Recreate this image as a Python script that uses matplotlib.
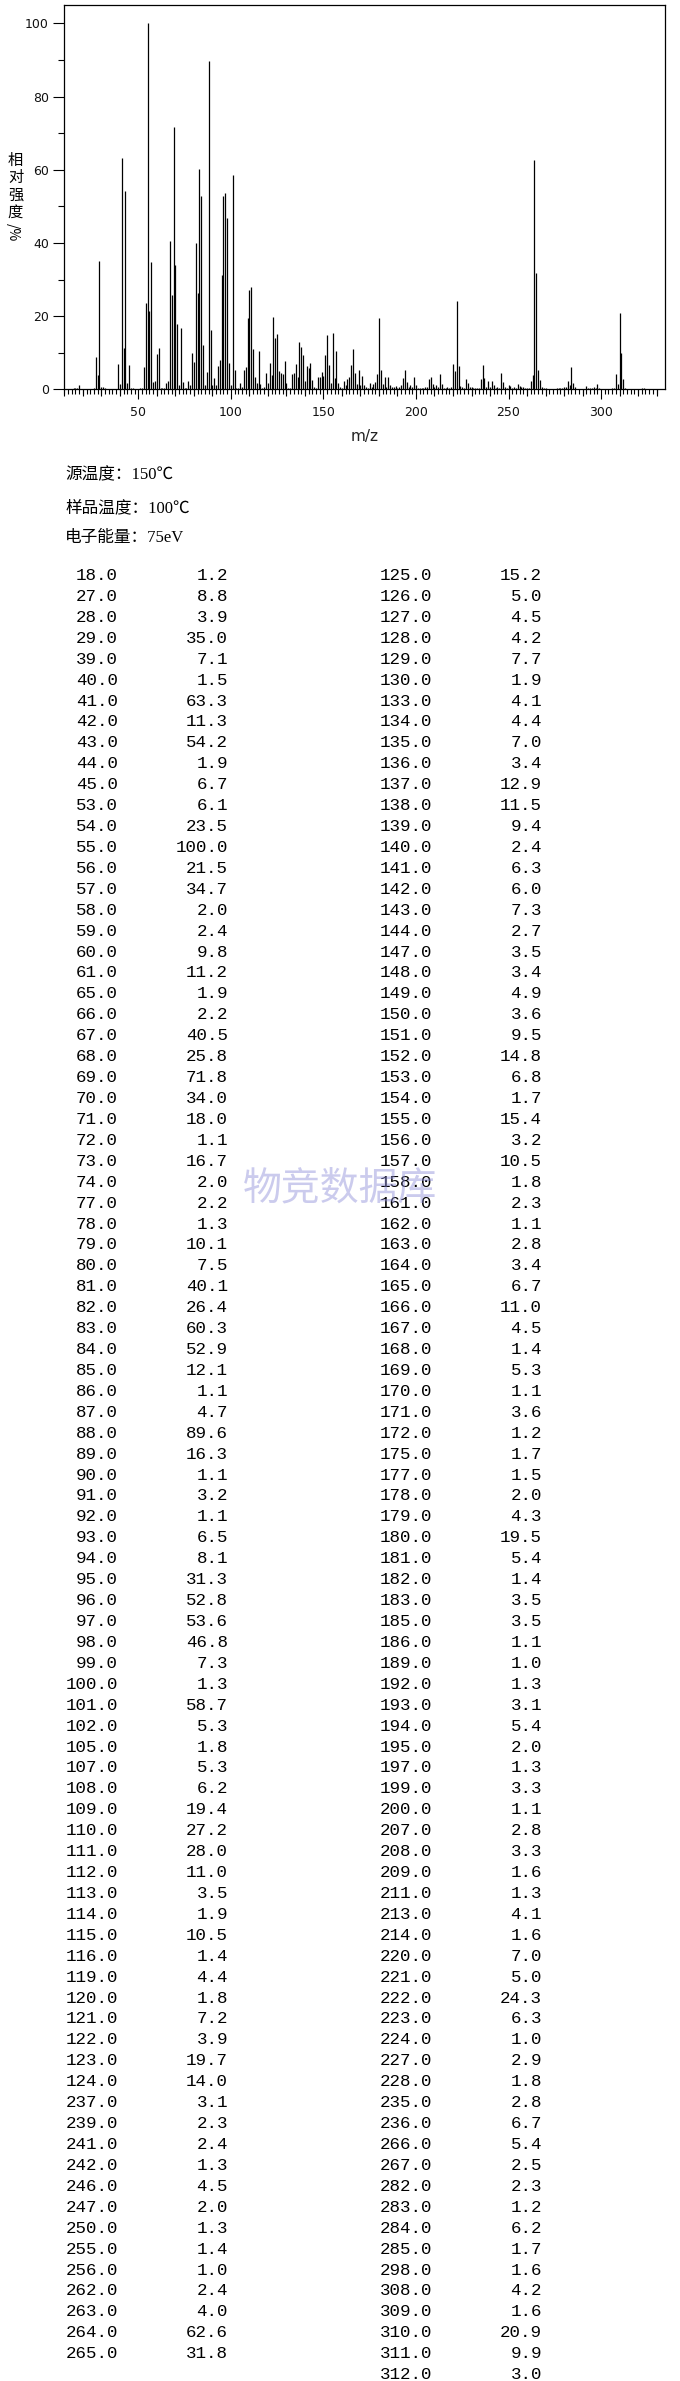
import matplotlib
matplotlib.use("Agg")
import matplotlib.pyplot as plt
from matplotlib.ticker import FixedLocator

W, H = 680, 2381

# peak list exactly as printed below the spectrum (two columns)
left_mz = [18, 27, 28, 29, 39, 40, 41, 42, 43, 44, 45, 53, 54, 55,
           56, 57, 58, 59, 60, 61, 65, 66, 67, 68, 69, 70, 71, 72,
           73, 74, 77, 78, 79, 80, 81, 82, 83, 84, 85, 86, 87, 88,
           89, 90, 91, 92, 93, 94, 95, 96, 97, 98, 99, 100, 101, 102,
           105, 107, 108, 109, 110, 111, 112, 113, 114, 115, 116, 119, 120, 121, 122,
           123, 124, 237, 239, 241, 242, 246, 247, 250, 255, 256, 262, 263, 264, 265]
left_int = [1.2, 8.8, 3.9, 35.0, 7.1, 1.5, 63.3, 11.3, 54.2, 1.9, 6.7, 6.1, 23.5, 100.0,
            21.5, 34.7, 2.0, 2.4, 9.8, 11.2, 1.9, 2.2, 40.5, 25.8, 71.8, 34.0, 18.0, 1.1,
            16.7, 2.0, 2.2, 1.3, 10.1, 7.5, 40.1, 26.4, 60.3, 52.9, 12.1, 1.1, 4.7, 89.6,
            16.3, 1.1, 3.2, 1.1, 6.5, 8.1, 31.3, 52.8, 53.6, 46.8, 7.3, 1.3, 58.7, 5.3,
            1.8, 5.3, 6.2, 19.4, 27.2, 28.0, 11.0, 3.5, 1.9, 10.5, 1.4, 4.4, 1.8, 7.2, 3.9,
            19.7, 14.0, 3.1, 2.3, 2.4, 1.3, 4.5, 2.0, 1.3, 1.4, 1.0, 2.4, 4.0, 62.6, 31.8]

right_mz = [125, 126, 127, 128, 129, 130, 133, 134, 135, 136, 137, 138, 139, 140,
            141, 142, 143, 144, 147, 148, 149, 150, 151, 152, 153, 154, 155, 156,
            157, 158, 161, 162, 163, 164, 165, 166, 167, 168, 169, 170, 171, 172,
            175, 177, 178, 179, 180, 181, 182, 183, 185, 186, 189, 192, 193, 194,
            195, 197, 199, 200, 207, 208, 209, 211, 213, 214, 220, 221, 222, 223, 224,
            227, 228, 235, 236, 266, 267, 282, 283, 284, 285, 298, 308, 309, 310, 311, 312]
right_int = [15.2, 5.0, 4.5, 4.2, 7.7, 1.9, 4.1, 4.4, 7.0, 3.4, 12.9, 11.5, 9.4, 2.4,
             6.3, 6.0, 7.3, 2.7, 3.5, 3.4, 4.9, 3.6, 9.5, 14.8, 6.8, 1.7, 15.4, 3.2,
             10.5, 1.8, 2.3, 1.1, 2.8, 3.4, 6.7, 11.0, 4.5, 1.4, 5.3, 1.1, 3.6, 1.2,
             1.7, 1.5, 2.0, 4.3, 19.5, 5.4, 1.4, 3.5, 3.5, 1.1, 1.0, 1.3, 3.1, 5.4,
             2.0, 1.3, 3.3, 1.1, 2.8, 3.3, 1.6, 1.3, 4.1, 1.6, 7.0, 5.0, 24.3, 6.3, 1.0,
             2.9, 1.8, 2.8, 6.7, 5.4, 2.5, 2.3, 1.2, 6.2, 1.7, 1.6, 4.2, 1.6, 20.9, 9.9, 3.0]

# small peaks (<1 %) drawn in the spectrum but not listed in the table
minor_mz = [15, 16, 17, 26, 30, 31, 32, 46, 47, 51, 52, 62, 63, 64, 75, 76,
            103, 104, 106, 117, 118, 131, 132, 145, 146, 159, 160, 173, 174, 176,
            184, 187, 188, 190, 191, 196, 198, 201, 202, 203, 204, 205, 206, 210,
            212, 215, 216, 217, 218, 219, 225, 226, 229, 230, 231, 232, 233, 234,
            238, 240, 243, 244, 245, 248, 249, 251, 252, 253, 254, 257, 258, 259,
            260, 261, 268, 269, 270, 276, 277, 278, 279, 280, 281, 286, 292, 293,
            294, 295, 296, 297, 299, 306, 307, 313, 322, 323]
minor_int = [0.4, 0.3, 0.5, 0.5, 0.8, 0.8, 0.4, 0.3, 0.3, 0.4, 0.5, 0.5, 0.5, 0.4, 0.5, 0.4,
             0.5, 0.4, 0.6, 0.5, 0.6, 0.4, 0.5, 0.6, 0.5, 0.6, 0.5, 0.6, 0.4, 0.7,
             0.8, 0.8, 0.6, 0.5, 0.7, 0.7, 0.6, 0.5, 0.4, 0.5, 0.4, 0.6, 0.8, 0.7,
             0.6, 0.5, 0.4, 0.6, 0.5, 0.6, 0.6, 0.5, 0.8, 0.6, 0.4, 0.5, 0.4, 0.4,
             0.8, 0.6, 0.5, 0.6, 0.4, 0.7, 0.5, 0.9, 0.5, 0.7, 0.4, 0.8, 0.6, 0.4,
             0.4, 0.5, 0.7, 0.5, 0.3, 0.3, 0.4, 0.4, 0.5, 0.6, 0.8, 0.6, 0.9, 0.4,
             0.3, 0.5, 0.6, 0.4, 0.5, 0.4, 0.4, 0.5, 0.3, 0.3]

conditions = ["源温度：150℃", "样品温度：100℃", "电子能量：75eV"]

fig = plt.figure(figsize=(W / 100, H / 100), dpi=100)

def fx(px):
    return px / W

def fy(py):
    return 1 - py / H

# spectrum axes
ax_l, ax_r, ax_t, ax_b = 64.3, 665.3, 5.0, 389.5
ax = fig.add_axes([fx(ax_l), fy(ax_b), (ax_r - ax_l) / W, (ax_b - ax_t) / H])
mz = left_mz + right_mz + minor_mz
inten = left_int + right_int + minor_int
ax.vlines(mz, 0, inten, colors="black", linewidth=0.9)
ax.set_xlim(10, 334.7)
ax.set_ylim(0, 105)
for s in ax.spines.values():
    s.set_linewidth(0.9)

ax.set_xticks([50, 100, 150, 200, 250, 300])
ax.xaxis.set_minor_locator(FixedLocator(list(range(10, 331, 2))))
ax.set_yticks([0, 20, 40, 60, 80, 100])
ax.yaxis.set_minor_locator(FixedLocator([10, 30, 50, 70, 90]))
ax.tick_params(axis="x", which="major", direction="out", length=7.2, width=0.8,
               pad=5, labelsize=9, labelcolor="#111")
ax.tick_params(axis="x", which="minor", direction="out", length=3.6, width=0.8)
ax.tick_params(axis="y", which="major", direction="out", length=8, width=0.8,
               pad=3, labelsize=9, labelcolor="#111")
ax.tick_params(axis="y", which="minor", direction="out", length=4.3, width=0.8)

# medium ticks every 10
sec = ax.secondary_xaxis("bottom")
sec.set_xticks([t for t in range(10, 331, 10) if t % 50])
sec.tick_params(direction="out", length=5, width=0.8, labelbottom=False)
sec.spines["bottom"].set_visible(False)

fig.text(fx(364.5), fy(437), "m/z", ha="center", va="center", fontsize=11, color="#222")

cjk = ["Noto Sans CJK SC", "DejaVu Sans"]
for i, ch in enumerate("相对强度"):
    fig.text(fx(15.5), fy(160 + i * 17.5), ch, ha="center", va="center",
             fontsize=11, family=cjk)
fig.text(fx(13), fy(232), "/%", ha="center", va="center", rotation=270,
         fontsize=10, family=cjk)

# experimental conditions
serif_cjk = ["Liberation Serif", "Noto Sans CJK SC"]
for i, line in enumerate(conditions):
    fig.text(fx(65), fy([479, 512, 542][i]), line, ha="left", va="baseline",
             fontsize=12, family=serif_cjk)

# peak table
mono = "Liberation Mono"
row0, pitch = 580, 20.92
for i, (m, v) in enumerate(zip(left_mz, left_int)):
    y = fy(row0 + i * pitch)
    fig.text(fx(118), y, f"{m:.1f}", ha="right", va="baseline", fontsize=12.6, family=mono)
    fig.text(fx(228), y, f"{v:.1f}", ha="right", va="baseline", fontsize=12.6, family=mono)
for i, (m, v) in enumerate(zip(right_mz, right_int)):
    y = fy(row0 + i * pitch)
    fig.text(fx(432), y, f"{m:.1f}", ha="right", va="baseline", fontsize=12.6, family=mono)
    fig.text(fx(542), y, f"{v:.1f}", ha="right", va="baseline", fontsize=12.6, family=mono)

# watermark
fig.text(fx(340), fy(1190), "物竞数据库", ha="center", va="center", fontsize=28,
         family=cjk, color="#8c8cd8", alpha=0.45, zorder=10)

fig.savefig("out.png", dpi=100)
